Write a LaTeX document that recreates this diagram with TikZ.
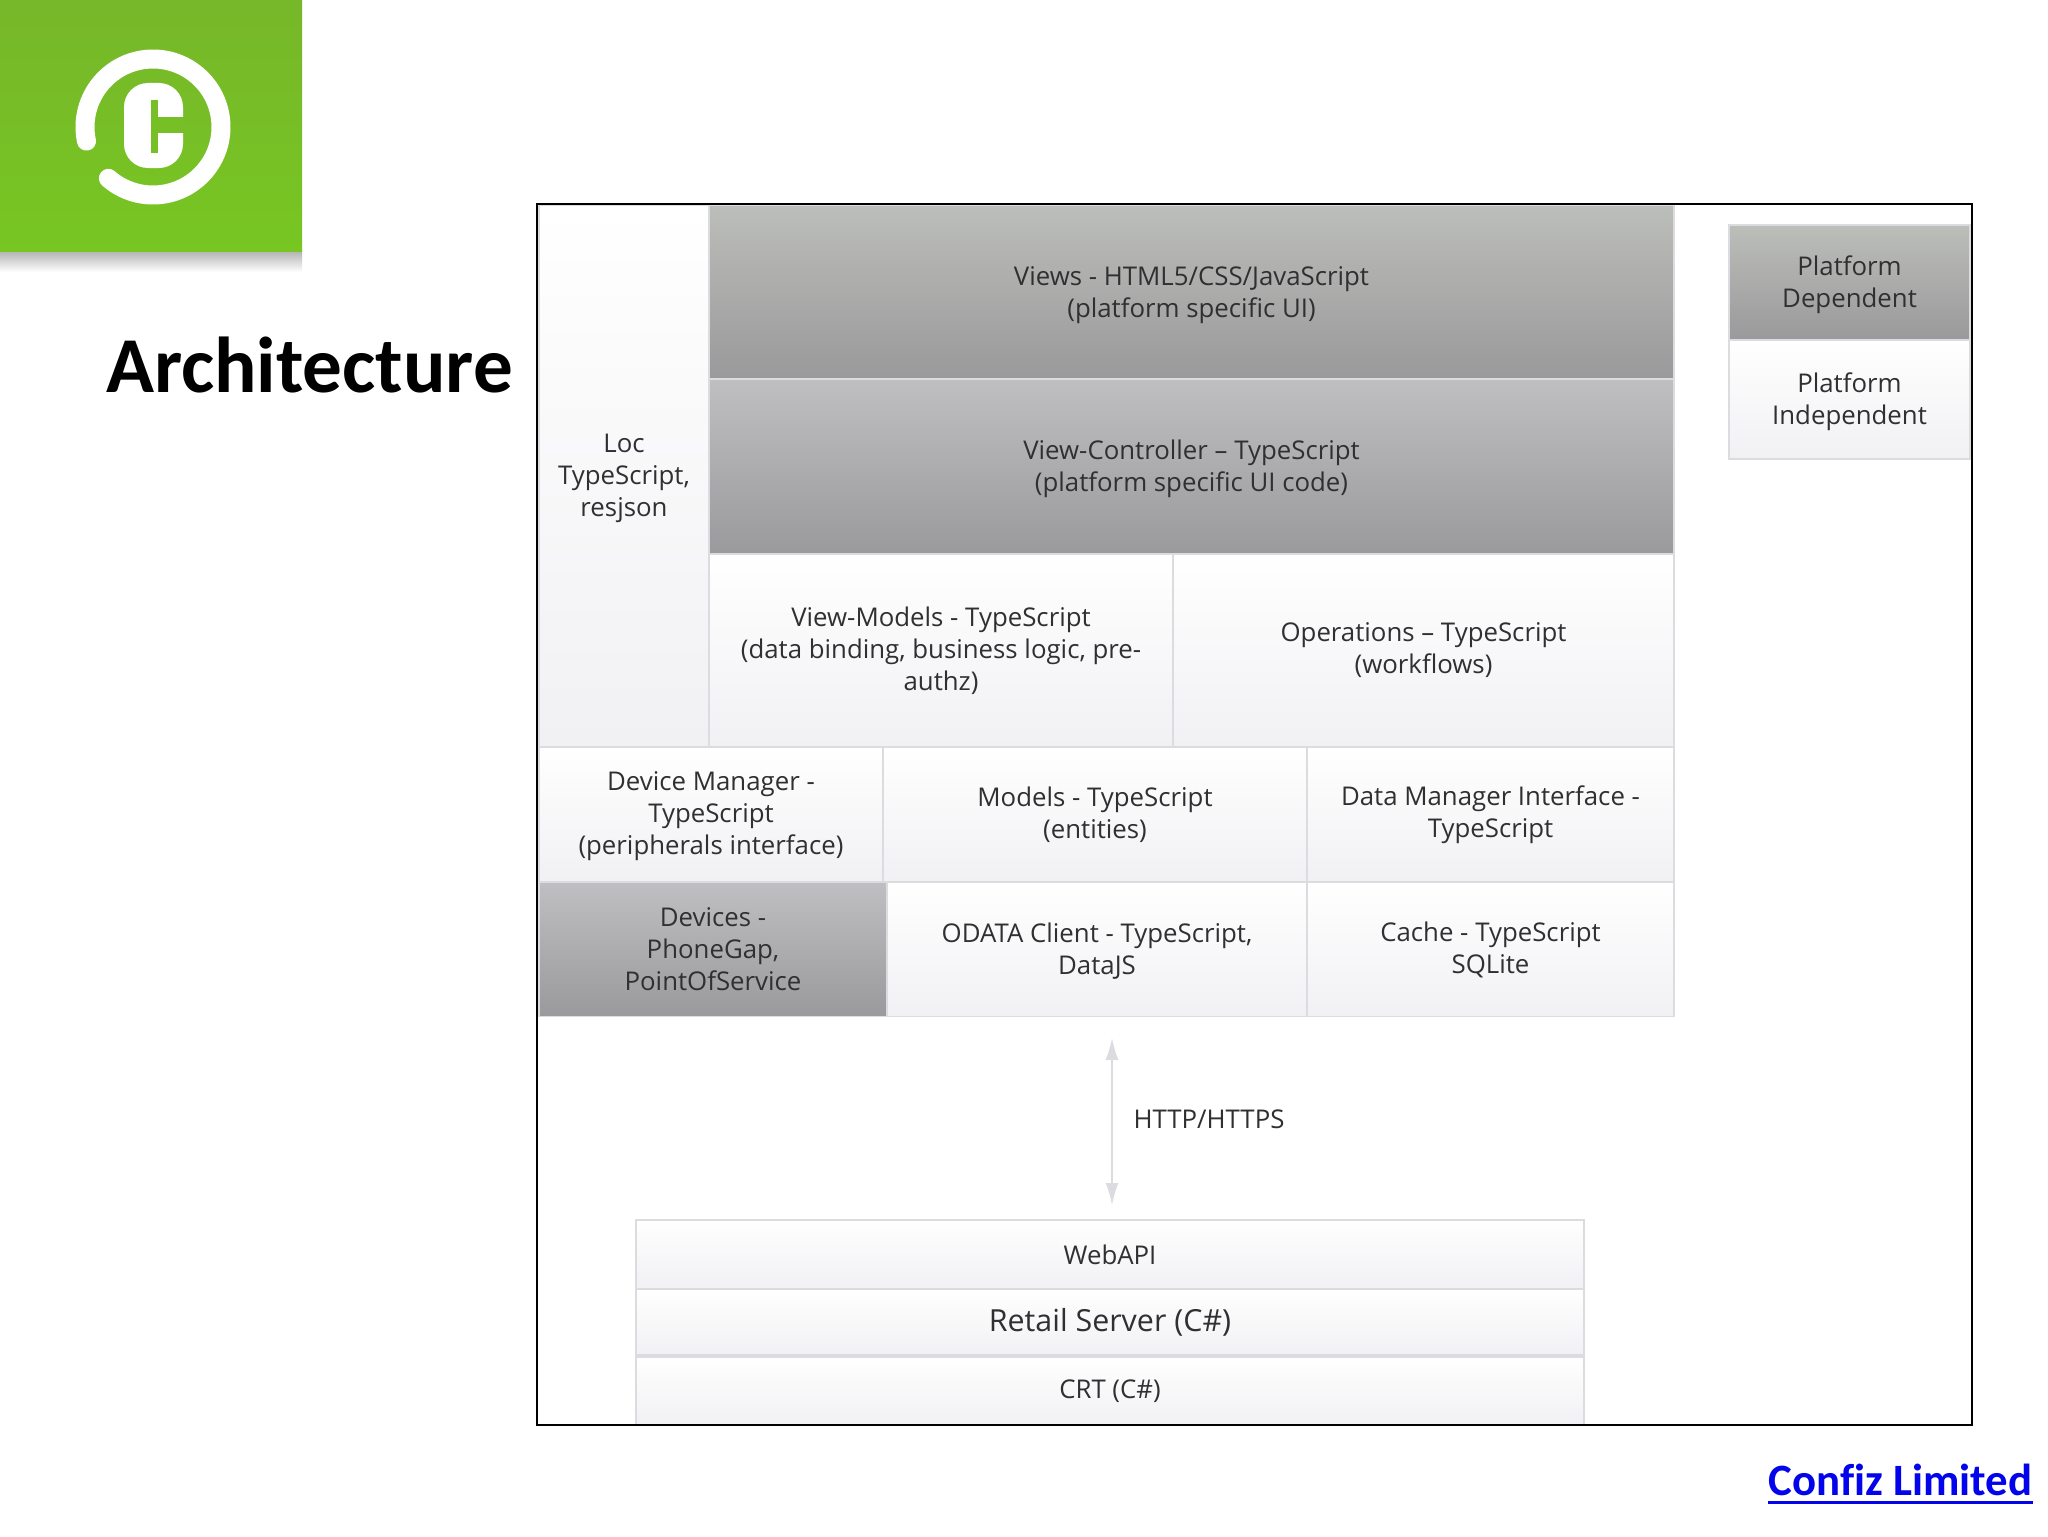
\documentclass[tikz,border=0pt]{standalone}
\usepackage{fontspec}
\setmainfont{Open Sans}
\newfontfamily\calib[Ligatures=NoCommon]{Carlito}
\usetikzlibrary{arrows.meta}
\definecolor{edgegray}{HTML}{DCDBDF}
\definecolor{inktext}{HTML}{303032}
\definecolor{logotop}{HTML}{77B72A}
\definecolor{logobottom}{HTML}{77C622}
\definecolor{logofill}{HTML}{77BF26}
\definecolor{linkblue}{HTML}{0404EC}
\definecolor{TopA}{HTML}{BCBEBA}
\definecolor{TopB}{HTML}{BFBEC0}
\definecolor{DarkEnd}{HTML}{9A999B}
\definecolor{LightMid}{HTML}{F9F9FB}
\definecolor{LightEnd}{HTML}{F1F0F3}
\newcommand{\lowerbit}[1]{\mbox{}\\[#1]}
\tikzset{
  x=0.5pt,y=-0.5pt,
  cell/.style={draw=edgegray,line width=0.7pt,inner sep=0pt,align=center,text=inktext,font=\fontsize{12.9}{16}\selectfont},
  lightcell/.style={cell,top color=white,middle color=LightMid,bottom color=LightEnd},
  darkcell/.style={cell,top color=#1,bottom color=DarkEnd},
  framebox/.style={draw=black,line width=1pt},
  httparrow/.style={draw=edgegray,line width=0.8pt,{Latex[length=11pt,width=6.5pt]}-{Latex[length=11pt,width=6.5pt]}},
}
\begin{document}
\begin{tikzpicture}
\useasboundingbox (0,0) rectangle (2048,1536);
\fill[white] (0,0) rectangle (2048,1536);
% logo
\shade[top color=black!30,bottom color=white] (0,251) rectangle (302,272);
\shade[top color=logotop,bottom color=logobottom] (0,0) rectangle (302,251);
\draw[white,line width=9.5pt,line cap=round] (153,127) ++(131:68) arc[start angle=131,delta angle=-323,radius=68];
\fill[white,rounded corners=12pt] (124,83) rectangle (183,168);
\fill[logofill] (151,100) rectangle (158,153);
\fill[logofill] (158,117) rectangle (184,133);
% title
\node[anchor=base,font=\calib\bfseries\fontsize{39.6}{48}\selectfont,text=black] (title) at (309.5,392) {Architecture};
% cells
\node[lightcell,minimum width=85pt,minimum height=271pt] (loc) at (624,476) {\lowerbit{-4.3pt}Loc\\TypeScript,\\resjson};
\node[darkcell=TopA,minimum width=482.5pt,minimum height=87pt] (views) at (1191.5,292) {\lowerbit{-3.6pt}Views - HTML5/CSS/JavaScript\\(platform specific UI)};
\node[darkcell=TopB,minimum width=482.5pt,minimum height=87.5pt] (vc) at (1191.5,466.5) {\lowerbit{-4.3pt}View-Controller -- TypeScript\\(platform specific UI code)};
\node[lightcell,minimum width=232pt,minimum height=96.5pt] (vm) at (941,650.5) {View-Models - TypeScript\\(data binding, business logic, pre-\\authz)};
\node[lightcell,minimum width=250.5pt,minimum height=96.5pt] (ops) at (1423.5,650.5) {Operations -- TypeScript\\(workflows)};
\node[lightcell,minimum width=172pt,minimum height=67.5pt] (dm) at (711,814.5) {\lowerbit{-4.5pt}Device Manager -\\TypeScript\\(peripherals interface)};
\node[lightcell,minimum width=212pt,minimum height=67.5pt] (models) at (1095,814.5) {Models - TypeScript\\(entities)};
\node[lightcell,minimum width=183.5pt,minimum height=67.5pt] (dmi) at (1490.5,814.5) {Data Manager Interface -\\TypeScript};
\node[darkcell=TopB,minimum width=174pt,minimum height=67pt] (dev) at (713,949.5) {Devices -\\PhoneGap,\\PointOfService};
\node[lightcell,minimum width=210pt,minimum height=67pt] (odata) at (1097,949.5) {\lowerbit{-4.5pt}ODATA Client - TypeScript,\\DataJS};
\node[lightcell,minimum width=183.5pt,minimum height=67pt] (cache) at (1490.5,949.5) {Cache - TypeScript\\SQLite};
% legend
\node[darkcell=TopA,minimum width=120.5pt,minimum height=57.5pt] (dep) at (1849.5,282.5) {\lowerbit{-4.3pt}Platform\\Dependent};
\node[lightcell,minimum width=120.5pt,minimum height=59.5pt] (ind) at (1849.5,399.5) {\lowerbit{-4.3pt}Platform\\Independent};
% server
\node[lightcell,minimum width=474pt,minimum height=34.5pt] (web) at (1110,1254.5) {WebAPI};
\node[lightcell,minimum width=474pt,minimum height=33pt,font=\fontsize{15.2}{18}\selectfont] (retail) at (1110,1322) {Retail Server (C\#)};
\node[lightcell,minimum width=474pt,minimum height=34pt] (crt) at (1110,1391) {CRT (C\#)};
\draw[edgegray,line width=1.5pt] (retail.south west) -- (retail.south east);
% frame
\draw[framebox] (537,204) rectangle (1972,1425);
% connector
\coordinate (up) at (1112,1038);
\coordinate (down) at (1112,1205);
\draw[httparrow] (up) -- (down);
\node[font=\fontsize{12.9}{16}\selectfont,text=inktext,inner sep=0pt] (http) at (1209,1119) {HTTP/HTTPS};
% link
\node[anchor=base,inner sep=0pt,font=\calib\bfseries\fontsize{22.4}{26}\selectfont,text=linkblue] (link) at (1900.5,1495) {Confiz Limited};
\draw[linkblue,line width=1.5pt] (link.base west |- 0,1502) -- (link.base east |- 0,1502);
\end{tikzpicture}
\end{document}
